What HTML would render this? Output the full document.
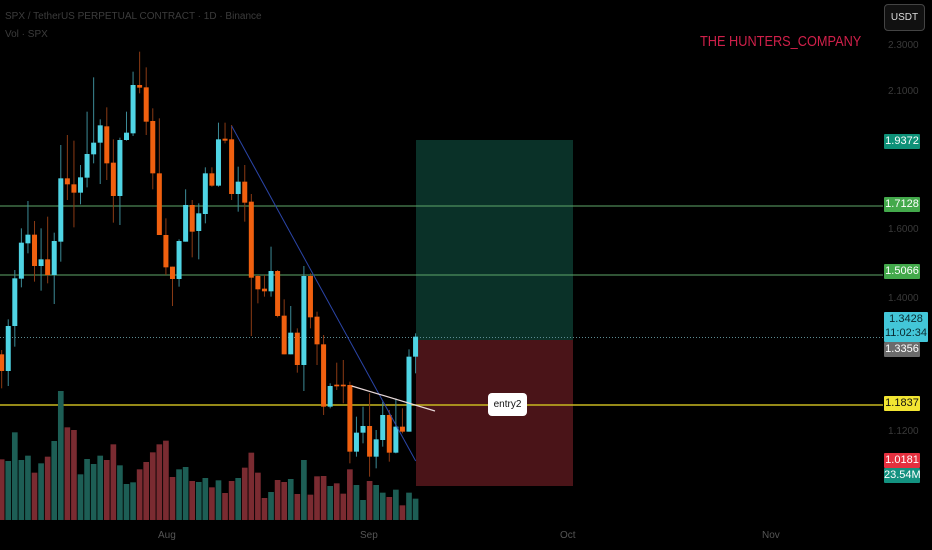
<!DOCTYPE html>
<html><head><meta charset="utf-8"><style>
html,body{margin:0;padding:0;background:#000;width:932px;height:550px;overflow:hidden;font-family:"Liberation Sans",sans-serif}
.lb{position:absolute;left:884px;width:36px;height:15px;font-size:11px;line-height:15px;text-align:center;color:#fff;border-radius:1px}
.ax{position:absolute;left:888px;font-size:10px;color:#3a3a3a}
.xt{position:absolute;top:530px;font-size:10px;color:#555}
</style></head><body>
<svg id="s" width="932" height="550" style="position:absolute;left:0;top:0">
<rect x="416" y="140" width="157" height="200" fill="#0a3128"/>
<rect x="416" y="340" width="157" height="146" fill="#4a1418"/>
<line x1="0" y1="206" x2="883" y2="206" stroke="#5fa86a" stroke-width="1"/>
<line x1="0" y1="275" x2="883" y2="275" stroke="#5fa86a" stroke-width="1"/>
<line x1="0" y1="337.5" x2="883" y2="337.5" stroke="#5d8c93" stroke-width="1" stroke-dasharray="1,2"/>
<line x1="0" y1="405" x2="883" y2="405" stroke="#c8b820" stroke-width="1.5"/>
<g id="g" transform="translate(0,50) scale(0.33333)"></g>
<line x1="231.7" y1="126" x2="415.7" y2="461" stroke="#2b45a8" stroke-width="1"/>
<line x1="351.7" y1="386" x2="435" y2="411" stroke="#e8d8d8" stroke-width="1.2"/>
</svg>
<div style="position:absolute;left:5px;top:11px;font-size:10px;color:#3c3c3c">SPX / TetherUS PERPETUAL CONTRACT · 1D · Binance</div>
<div style="position:absolute;left:5px;top:29px;font-size:10px;color:#3c3c3c">Vol · SPX</div>
<div style="position:absolute;left:700px;top:33px;font-size:15px;color:#d0204a;transform:scaleX(0.85);transform-origin:0 0;white-space:nowrap">THE HUNTERS_COMPANY</div>
<div style="position:absolute;left:884px;top:4px;width:39px;height:25px;border:1px solid #444;border-radius:4px;font-size:10px;color:#ddd;text-align:center;line-height:25px;background:#111">USDT</div>
<div class="ax" style="top:40px">2.3000</div>
<div class="ax" style="top:86px">2.1000</div>
<div class="ax" style="top:224px">1.6000</div>
<div class="ax" style="top:293px">1.4000</div>
<div class="ax" style="top:426px">1.1200</div>
<div class="lb" style="top:134px;background:#0e9178">1.9372</div>
<div class="lb" style="top:197px;background:#43a94b">1.7128</div>
<div class="lb" style="top:264px;background:#43a94b">1.5066</div>
<div class="lb" style="top:312px;height:30px;line-height:14px;background:#43c6d8;color:#0a2a30;width:44px">1.3428<br>11:02:34</div>
<div class="lb" style="top:342px;background:#6b6b6b">1.3356</div>
<div class="lb" style="top:396px;background:#f2e532;color:#111">1.1837</div>
<div class="lb" style="top:453px;background:#e5303f">1.0181</div>
<div class="lb" style="top:468px;background:#139280">23.54M</div>
<div style="position:absolute;left:488px;top:393px;width:39px;height:23px;background:#fff;border-radius:4px;font-size:10px;line-height:23px;text-align:center;color:#111">entry2</div>
<div class="xt" style="left:158px">Aug</div>
<div class="xt" style="left:360px">Sep</div>
<div class="xt" style="left:560px">Oct</div>
<div class="xt" style="left:762px">Nov</div>
<script>
var C=[[0,913,963,900,1015],[1,828,963,808,1008],[1,685,828,660,890],[1,578,686,535,712],[1,554,580,453,610],[0,554,648,513,695],[1,628,648,535,722],[0,628,675,500,700],[1,573,675,548,762],[1,385,575,285,635],[0,385,403,255,450],[0,403,428,272,532],[1,382,428,345,463],[1,312,383,185,412],[1,278,313,82,340],[1,226,278,208,402],[0,229,340,172,390],[0,338,438,268,518],[1,270,438,263,525],[1,248,270,185,272],[1,105,250,65,258],[0,105,113,5,130],[0,112,215,52,255],[0,213,370,175,418],[0,370,555,205,555],[0,555,652,505,675],[0,650,687,650,768],[1,573,687,568,710],[1,465,575,418,575],[0,465,545,450,622],[1,490,543,460,628],[1,370,492,352,520],[0,370,407,352,410],[1,268,407,218,410],[0,266,272,218,280],[0,268,432,225,450],[1,395,432,350,485],[0,395,458,345,515],[0,455,683,432,858],[0,678,718,675,760],[0,716,724,675,740],[1,663,724,590,740],[0,663,798,660,802],[0,797,913,748,913],[1,848,913,768,913],[0,848,945,835,968],[1,678,945,648,1023],[0,678,802,670,835],[0,800,883,785,945],[0,883,1070,855,1095],[1,1008,1070,1000,1075],[0,1004,1009,938,1020],[0,1004,1009,930,1060],[0,1005,1205,995,1240],[1,1148,1205,1100,1220],[1,1128,1148,1070,1180],[0,1128,1220,1030,1280],[1,1168,1220,1140,1255],[1,1095,1170,1055,1190],[0,1095,1208,1080,1235],[1,1130,1208,1045,1210],[0,1130,1145,1075,1150],[1,920,1145,898,1145],[1,860,920,850,970]];
var V=[[0,1228],[1,1233],[1,1147],[1,1230],[1,1217],[0,1268],[1,1240],[0,1220],[1,1173],[1,1023],[0,1132],[0,1140],[1,1273],[1,1227],[1,1242],[1,1217],[0,1230],[0,1183],[1,1246],[1,1302],[1,1297],[0,1258],[0,1236],[0,1207],[0,1183],[0,1172],[0,1281],[1,1258],[1,1251],[0,1293],[1,1296],[1,1284],[0,1312],[1,1291],[0,1329],[0,1293],[1,1284],[0,1253],[0,1208],[0,1268],[0,1344],[1,1326],[0,1290],[0,1296],[1,1287],[0,1332],[1,1230],[0,1334],[0,1279],[0,1278],[1,1308],[0,1300],[0,1331],[0,1258],[1,1305],[1,1350],[0,1293],[1,1305],[1,1328],[0,1341],[1,1319],[0,1366],[1,1328],[1,1346]];
var h='';
for(var i=0;i<V.length;i++){var x=5+19.71*i;h+='<rect x="'+(x-8.5)+'" y="'+V[i][1]+'" width="17" height="'+(1410-V[i][1])+'" fill="'+(V[i][0]?'#1d5e55':'#7a2b31')+'"/>';}
for(var i=0;i<C.length;i++){var c=C[i],x=5+19.71*i,col=c[0]?'#4fd4e4':'#f0600f',wc=c[0]?'#3c8a96':'#8a3a14';
h+='<rect x="'+(x-1.5)+'" y="'+c[3]+'" width="3" height="'+(c[4]-c[3])+'" fill="'+wc+'"/>';
h+='<rect x="'+(x-7.5)+'" y="'+c[1]+'" width="15" height="'+Math.max(4,c[2]-c[1])+'" fill="'+col+'"/>';}
document.getElementById('g').innerHTML=h;
</script>
</body></html>
